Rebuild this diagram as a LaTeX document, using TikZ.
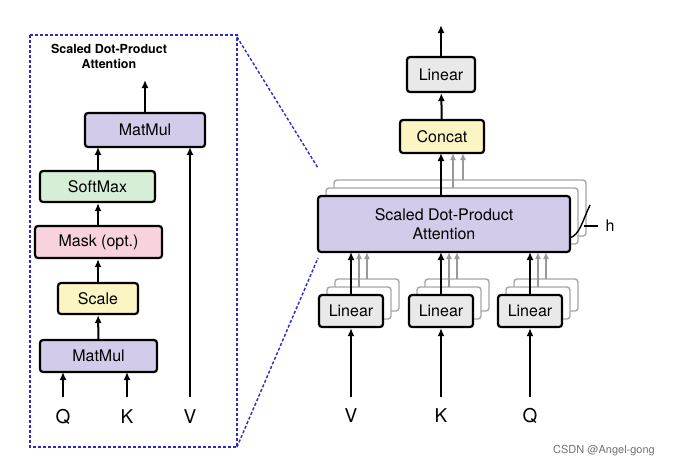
\documentclass[tikz,border=0pt]{standalone}
\usepackage{fontspec}
\setmainfont{TeX Gyre Heros}
\usetikzlibrary{arrows.meta}
\definecolor{purp}{HTML}{D2CBEA}
\definecolor{grn}{HTML}{D6EED6}
\definecolor{pnk}{HTML}{F8D3DE}
\definecolor{ylw}{HTML}{FBF5C3}
\definecolor{gry}{HTML}{E9E9E9}
\definecolor{dblue}{HTML}{2A2AC8}
\begin{document}
\begin{tikzpicture}[x=1pt,y=-1pt,
  box/.style={draw=black,line width=2.2pt,rounded corners=3pt},
  ghost/.style={draw=black!35,line width=1.4pt,rounded corners=3pt,fill=white},
  arr/.style={line width=2pt,-{Latex[length=8pt,width=7pt]}},
  garr/.style={line width=1.6pt,black!40,-{Latex[length=7pt,width=6pt]}},
  lbl/.style={font=\fontsize{16}{19}\selectfont},
  io/.style={font=\fontsize{19}{19}\selectfont}]
\useasboundingbox (0,0) rectangle (696,467);
% left panel
\draw[dblue,densely dashed,line width=1.4pt] (30,35) rectangle (237,447);
\node[font=\bfseries\fontsize{12.5}{15}\selectfont,align=center] (title) at (109,56) {Scaled Dot-Product\\Attention};
\node[box,fill=purp,minimum width=120pt,minimum height=34pt,lbl] (mm1) at (145,130) {MatMul};
\node[box,fill=grn,minimum width=115pt,minimum height=31pt,lbl] (sm) at (97.5,186.5) {SoftMax};
\node[box,fill=pnk,minimum width=127pt,minimum height=32pt,lbl] (mask) at (98.5,242) {Mask (opt.)};
\node[box,fill=ylw,minimum width=80pt,minimum height=31pt,lbl] (sc) at (98,298.5) {Scale};
\node[box,fill=purp,minimum width=117pt,minimum height=32pt,lbl] (mm2) at (98.5,356) {MatMul};
\node[io] (q1) at (63,417) {Q};
\node[io] (k1) at (127,417) {K};
\node[io] (v1) at (190,417) {V};
\coordinate (top1) at (145,80);
\draw[arr] (mm1) -- (top1);
\draw[arr] (sm.north -| 98,0) -- (98,147);
\draw[arr] (mask.north -| 98,0) -- (sm.south -| 98,0);
\draw[arr] (sc) -- (mask.south -| 98,0);
\draw[arr] (mm2) -- (sc);
\draw[arr] (63,397) -- (63,372);
\draw[arr] (127,397) -- (127,372);
\draw[arr] (190,397) -- (190,147);
% right
\node[box,fill=gry,minimum width=68pt,minimum height=35pt,lbl] (lin) at (441,74.5) {Linear};
\node[box,fill=ylw,minimum width=84pt,minimum height=33pt,lbl] (cat) at (442,136.5) {Concat};
\coordinate (top2) at (441,25);
\draw[arr] (lin) -- (top2);
\draw[arr] (cat) -- (lin);
% SDPA stack
\draw[ghost] (334,180) rectangle (586,236);
\draw[ghost] (326,188) rectangle (578,244);
\draw[garr] (463,180) -- (463,153);
\draw[garr] (453,188) -- (453,153);
\node[box,fill=purp,minimum width=252pt,minimum height=56pt,lbl,align=center] (sd) at (444,224) {Scaled Dot-Product\\Attention};
\draw[arr] (441,196) -- (441,153);
\draw[line width=1.4pt] (570,238) .. controls (580,234) and (582,222) .. (590,205);
\draw[line width=1.2pt] (584,226) -- (598,226);
\node[lbl] (h) at (610,226) {h};
% linear stacks
\foreach \x/\n/\lab/\in in {351/a/V/v2,441/b/K/k2,530/c/Q/q2}{
  \draw[ghost] (\x-32+16,295-16) rectangle (\x+32+16,327-16);
  \draw[ghost] (\x-32+8,295-8) rectangle (\x+32+8,327-8);
  \draw[garr] (\x+16,279) -- (\x+16,252);
  \draw[garr] (\x+8,287) -- (\x+8,252);
  \node[box,fill=gry,minimum width=64pt,minimum height=32pt,lbl] (l\n) at (\x,311) {Linear};
  \draw[arr] (l\n) -- (\x,252);
  \node[io] (\in) at (\x,416) {\lab};
  \draw[arr] (\x,397) -- (l\n);
}
% zoom lines
\draw[dblue,densely dashed,line width=1.4pt] (237,37) -- (318,168);
\draw[dblue,densely dashed,line width=1.4pt] (237,447) -- (318,258);
\node[font=\fontsize{11}{11}\selectfont,text=black!55] (wm) at (604,451) {CSDN @Angel-gong};
\end{tikzpicture}
\end{document}
